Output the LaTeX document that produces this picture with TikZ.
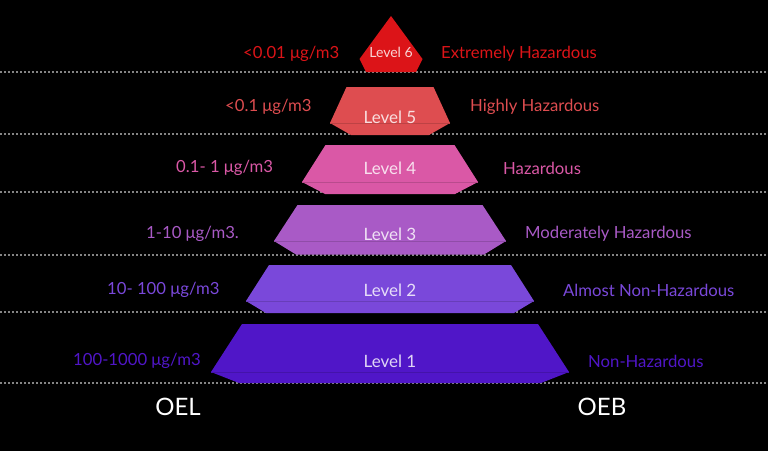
\documentclass[tikz,border=0pt]{standalone}
\usepackage{fontspec}
\setmainfont{Lato}
\definecolor{c6}{HTML}{DC1418}
\definecolor{c5}{HTML}{DE4D50}
\definecolor{c4}{HTML}{DA58A6}
\definecolor{c3}{HTML}{A95AC6}
\definecolor{c2}{HTML}{7A48DA}
\definecolor{c1}{HTML}{5016C8}
\definecolor{dotgray}{HTML}{858585}
\tikzset{
  divider/.style={dotgray, line width=1.5pt, dash pattern=on 1.5pt off 2.5pt},
  lvltext/.style={text=white, text opacity=0.82, font=\fontsize{17}{19}\selectfont, inner sep=0pt},
  sidetext/.style={font=\fontsize{16.7}{19}\selectfont, inner sep=0pt},
  axistext/.style={text=white, font=\fontsize{24}{26}\selectfont, inner sep=0pt},
  midline/.style={line width=0.6pt}
}
\newcommand{\lvlshape}[7]{%
  \fill[#7] (390-#2,#1) -- (390+#2,#1) -- (390+#4,#3) -- (390+#6,#5) -- (390-#6,#5) -- (390-#4,#3) -- cycle;
  \draw[midline,#7!85!black] (390-#4,#3) -- (390+#4,#3);
}
\begin{document}
\begin{tikzpicture}[x=1pt,y=-1pt]
\fill[black] (0,0) rectangle (768,451);
\useasboundingbox (0,0) rectangle (768,451);
% dotted dividers
\foreach \yy in {72,134,192,255,312,383} \draw[divider] (0,\yy) -- (768,\yy);
% levels
\lvlshape{324}{148}{372}{179}{383}{151}{c1}
\lvlshape{265}{121}{301}{144}{313}{124}{c2}
\lvlshape{205}{92.5}{241}{116}{254.5}{94}{c3}
\lvlshape{145}{64.5}{182}{88}{194}{65}{c4}
\lvlshape{87}{43.5}{123}{60}{135}{39}{c5}
\fill[c6] (391,16) -- (422.5,59) -- (416,72) -- (366,72) -- (359.5,59) -- cycle;
% level texts
\node[lvltext] (l6) at (391,52) {\fontsize{14}{16}\selectfont Level 6};
\node[lvltext] (l5) at (390,117) {Level 5};
\node[lvltext] (l4) at (390,168) {Level 4};
\node[lvltext] (l3) at (390,234) {Level 3};
\node[lvltext] (l2) at (390,290) {Level 2};
\node[lvltext] (l1) at (390,361) {Level 1};
% left labels
\node[sidetext, text=c6, anchor=west] (o6) at (243,54) {<0.01 μg/m3};
\node[sidetext, text=c5, anchor=west] (o5) at (225,107) {<0.1 μg/m3};
\node[sidetext, text=c4, anchor=west] (o4) at (176,168) {0.1- 1 μg/m3};
\node[sidetext, text=c3, anchor=west] (o3) at (146,234) {1-10 μg/m3.};
\node[sidetext, text=c2, anchor=west] (o2) at (107,290) {10- 100 μg/m3};
\node[sidetext, text=c1, anchor=west] (o1) at (73,361) {100-1000 μg/m3};
% right labels
\node[sidetext, text=c6, anchor=west] (b6) at (441,54) {Extremely Hazardous};
\node[sidetext, text=c5, anchor=west] (b5) at (470,107) {Highly Hazardous};
\node[sidetext, text=c4, anchor=west] (b4) at (503,168) {Hazardous};
\node[sidetext, text=c3, anchor=west] (b3) at (525,234) {Moderately Hazardous};
\node[sidetext, text=c2, anchor=west] (b2) at (563,290) {Almost Non-Hazardous};
\node[sidetext, text=c1, anchor=west] (b1) at (588,361) {Non-Hazardous};
% axis labels
\node[axistext] (oel) at (178,407) {OEL};
\node[axistext] (oeb) at (602,407) {OEB};
\end{tikzpicture}
\end{document}
